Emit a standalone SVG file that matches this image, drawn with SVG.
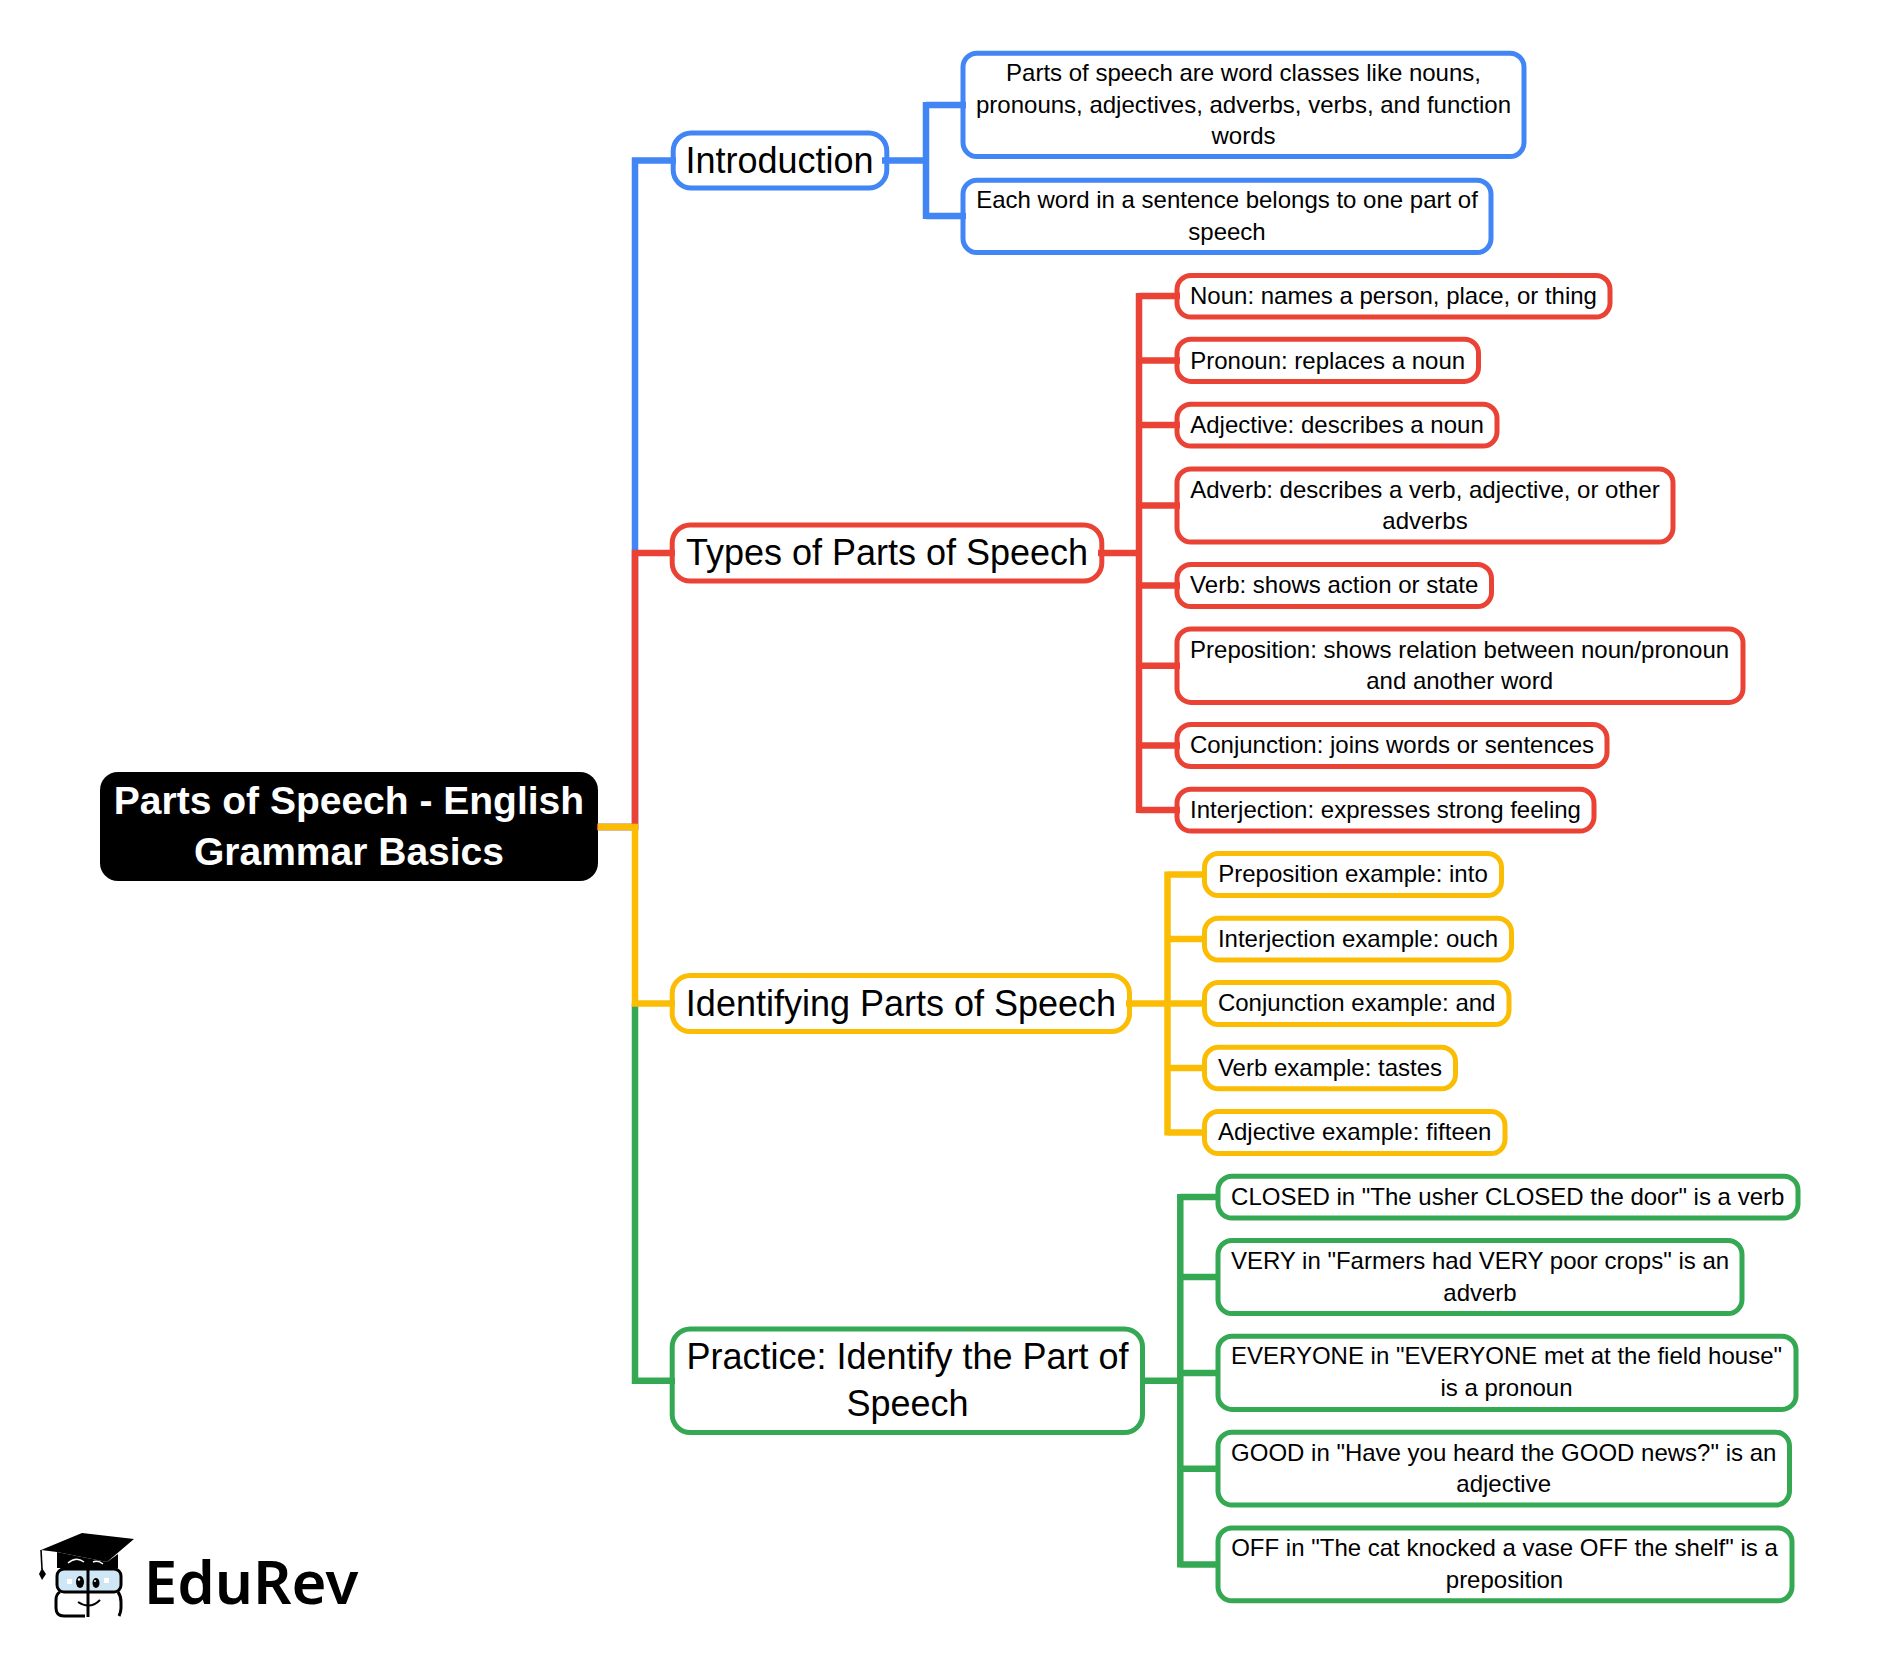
<svg xmlns="http://www.w3.org/2000/svg" width="1901" height="1654" viewBox="0 0 1901 1654">
<style>
text{font-family:"Liberation Sans",Arial,sans-serif;fill:#000;text-anchor:middle}
.leaf text{font-size:24px}
.main text{font-size:36px}
.root text{font-size:39px;font-weight:700;fill:#fff}
.node rect{fill:#fff;stroke-width:5}
.b rect{stroke:#4285f4}.r rect{stroke:#ea4335}.y rect{stroke:#fbbc04}.g rect{stroke:#34a853}
#connectors path{fill:none;stroke-width:6.5;stroke-linejoin:miter}
.cb{stroke:#4285f4}.cr{stroke:#ea4335}.cy{stroke:#fbbc04}.cg{stroke:#34a853}
</style>
<rect width="1901" height="1654" fill="#fff"/>

<g id="root" class="root"><rect x="100" y="772" width="498" height="109" rx="18" fill="#000"/>
<text x="349" y="814">Parts of Speech - English</text><text x="349" y="865">Grammar Basics</text></g>

<g id="n-intro" class="node main b"><rect x="673.2" y="133" width="213.6" height="55" rx="18"/><text x="779.5" y="173">Introduction</text></g>
<g id="n-types" class="node main r"><rect x="672.2" y="525" width="429.6" height="56" rx="18"/><text x="887" y="565">Types of Parts of Speech</text></g>
<g id="n-ident" class="node main y"><rect x="672.2" y="975.5" width="457.3" height="56" rx="18"/><text x="901" y="1015.5">Identifying Parts of Speech</text></g>
<g id="n-prac" class="node main g"><rect x="672.2" y="1329" width="470.3" height="103.5" rx="18"/><text x="907.5" y="1369">Practice: Identify the Part of</text><text x="907.5" y="1416">Speech</text></g>

<g id="l-b1" class="node leaf b"><rect x="963" y="53.2" width="561" height="103.3" rx="14"/><text x="1243.5" y="81">Parts of speech are word classes like nouns,</text><text x="1243.5" y="113">pronouns, adjectives, adverbs, verbs, and function</text><text x="1243.5" y="144">words</text></g>
<g id="l-b2" class="node leaf b"><rect x="963" y="180.2" width="528" height="72.3" rx="14"/><text x="1227" y="208">Each word in a sentence belongs to one part of</text><text x="1227" y="240">speech</text></g>

<g id="l-r1" class="node leaf r"><rect x="1177" y="275.5" width="433" height="41.6" rx="14"/><text x="1393.5" y="304">Noun: names a person, place, or thing</text></g>
<g id="l-r2" class="node leaf r"><rect x="1177" y="339.2" width="301.5" height="42.2" rx="14"/><text x="1327.7" y="369">Pronoun: replaces a noun</text></g>
<g id="l-r3" class="node leaf r"><rect x="1177" y="404.2" width="320" height="41.8" rx="14"/><text x="1337" y="432.8">Adjective: describes a noun</text></g>
<g id="l-r4" class="node leaf r"><rect x="1177" y="469" width="496" height="73" rx="14"/><text x="1425" y="498">Adverb: describes a verb, adjective, or other</text><text x="1425" y="529">adverbs</text></g>
<g id="l-r5" class="node leaf r"><rect x="1177" y="564.5" width="314.5" height="42" rx="14"/><text x="1334.2" y="593.2">Verb: shows action or state</text></g>
<g id="l-r6" class="node leaf r"><rect x="1177" y="629" width="566" height="73.4" rx="14"/><text x="1459.6" y="657.5">Preposition: shows relation between noun/pronoun</text><text x="1459.6" y="688.7">and another word</text></g>
<g id="l-r7" class="node leaf r"><rect x="1177" y="724.5" width="430" height="42" rx="14"/><text x="1392" y="753.2">Conjunction: joins words or sentences</text></g>
<g id="l-r8" class="node leaf r"><rect x="1177" y="789.2" width="417" height="41.9" rx="14"/><text x="1385.5" y="817.8">Interjection: expresses strong feeling</text></g>

<g id="l-y1" class="node leaf y"><rect x="1204.5" y="853.5" width="297" height="42" rx="14"/><text x="1353" y="882.2">Preposition example: into</text></g>
<g id="l-y2" class="node leaf y"><rect x="1204.5" y="918.2" width="307" height="41.9" rx="14"/><text x="1358" y="946.8">Interjection example: ouch</text></g>
<g id="l-y3" class="node leaf y"><rect x="1204.5" y="982.5" width="304.5" height="42" rx="14"/><text x="1356.7" y="1011.2">Conjunction example: and</text></g>
<g id="l-y4" class="node leaf y"><rect x="1204.5" y="1047.2" width="251" height="41.6" rx="14"/><text x="1330" y="1075.8">Verb example: tastes</text></g>
<g id="l-y5" class="node leaf y"><rect x="1204.5" y="1111.5" width="300.5" height="42" rx="14"/><text x="1354.7" y="1140.2">Adjective example: fifteen</text></g>

<g id="l-g1" class="node leaf g"><rect x="1218" y="1176.2" width="580" height="41.9" rx="14"/><text x="1507.7" y="1204.8">CLOSED in "The usher CLOSED the door" is a verb</text></g>
<g id="l-g2" class="node leaf g"><rect x="1218" y="1240.5" width="524" height="73" rx="14"/><text x="1480" y="1269">VERY in "Farmers had VERY poor crops" is an</text><text x="1480" y="1301">adverb</text></g>
<g id="l-g3" class="node leaf g"><rect x="1218" y="1336.2" width="578" height="73.2" rx="14"/><text x="1506.5" y="1364">EVERYONE in "EVERYONE met at the field house"</text><text x="1506.5" y="1396">is a pronoun</text></g>
<g id="l-g4" class="node leaf g"><rect x="1218" y="1432.2" width="571.5" height="72.9" rx="14"/><text x="1503.7" y="1461">GOOD in "Have you heard the GOOD news?" is an</text><text x="1503.7" y="1492">adjective</text></g>
<g id="l-g5" class="node leaf g"><rect x="1218" y="1528" width="574" height="72.8" rx="14"/><text x="1504.5" y="1555.5">OFF in "The cat knocked a vase OFF the shelf" is a</text><text x="1504.5" y="1587.5">preposition</text></g>

<g id="connectors">
<path class="cb" d="M597 827H635V160.5H676M882 160.5H926M926 105H966M926 216H966M926 102V219"/>
<path class="cr" d="M597 827H635V553H675M1098 553H1139M1139 296H1180M1139 360.5H1180M1139 425H1180M1139 505.5H1180M1139 585.5H1180M1139 665.7H1180M1139 745.5H1180M1139 810H1180M1139 293V813"/>
<path class="cg" d="M635 1003.5V1380.7H675M1140 1380.7H1180.3M1180.3 1197H1219M1180.3 1277H1219M1180.3 1373H1219M1180.3 1468.7H1219M1180.3 1564.4H1219M1180.3 1194V1567.4"/>
<path class="cy" d="M598 827H635V1003.5H675M1126 1003.5H1167.5M1167.5 874.5H1207M1167.5 939H1207M1167.5 1003.5H1207M1167.5 1068H1207M1167.5 1132.5H1207M1167.5 871.5V1135.5"/>
</g>

<g id="logo">
<path d="M41 1550L82 1533L134 1539L107 1562L57 1552Z" fill="#000"/>
<path d="M57 1552L107 1562L118 1554V1568H57Z" fill="#000"/>
<path d="M41 1550L42 1569" stroke="#000" stroke-width="1.6" fill="none"/>
<path d="M42 1568L46 1574L42 1580L39 1574Z" fill="#000"/>
<path d="M68 1563Q76 1556 84 1562M93 1562Q98 1560 103 1564" stroke="#fff" stroke-width="1.5" fill="none"/>
<rect x="57" y="1569" width="64" height="23" rx="7" fill="#cfe6f5" stroke="#000" stroke-width="3"/>
<path d="M88 1568V1617" stroke="#000" stroke-width="3" fill="none"/>
<path d="M67 1579h5v5h-5zM104 1578h5v5h-5z" fill="#fff"/>
<ellipse cx="80" cy="1582" rx="4" ry="6" fill="#000"/>
<ellipse cx="96" cy="1583" rx="3.5" ry="5" fill="#000"/>
<circle cx="79" cy="1579.5" r="1.2" fill="#fff"/><circle cx="95" cy="1581" r="1" fill="#fff"/>
<path d="M85 1616H64Q56 1616 56 1608V1600Q56 1594 60 1592M118 1592Q121 1596 121 1602V1608Q121 1612 119 1616" stroke="#000" stroke-width="3" fill="none"/>
<path d="M78 1602Q90 1610 100 1600" stroke="#000" stroke-width="2" fill="none"/>
<text x="251" y="1604" style="font-family:'Noto Sans','Open Sans',sans-serif;font-weight:600;font-size:60px">EduRev</text>
</g>
</svg>
